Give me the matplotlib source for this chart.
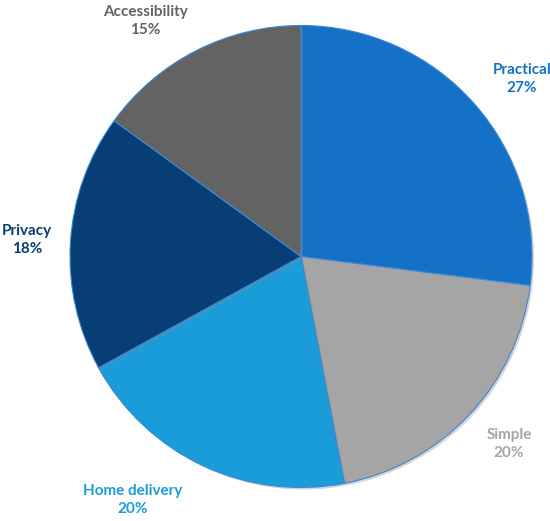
import matplotlib.pyplot as plt
import matplotlib.patheffects as pe

# data
labels = ["Practical", "Simple", "Home delivery", "Privacy", "Accessibility"]
shares = [27, 20, 20, 18, 15]
colors = ["#1570C8", "#A5A5A5", "#1A9CD9", "#083E76", "#636363"]

# label placement (pixel coords of the label centre, measured from the top)
label_pos = [(522, 79), (509, 444), (133, 500), (27, 240), (145, 21)]

W, H = 550, 521
fig = plt.figure(figsize=(5.5, 5.21), dpi=100)
ax = fig.add_axes([0, 0, 1, 1])

wedges, _ = ax.pie(shares, colors=colors, startangle=90, counterclock=False,
                   center=(301, H - 256.5), radius=231,
                   wedgeprops=dict(edgecolor="#3A87D6", linewidth=0.8))
ax.set_xlim(0, W)
ax.set_ylim(0, H)
ax.set_aspect("auto")
ax.axis("off")

for w in wedges:
    w.set_path_effects([pe.SimplePatchShadow(offset=(1.5, -1.5), shadow_rgbFace="#888888", alpha=0.35),
                        pe.Normal()])

for name, val, col, (x, y) in zip(labels, shares, colors, label_pos):
    ax.text(x, H - y, f"{name}\n{val}%", ha="center", va="center", color=col,
            fontsize=11, fontweight="bold", family="Lato", linespacing=1.3)

fig.savefig("out.png", dpi=100)
